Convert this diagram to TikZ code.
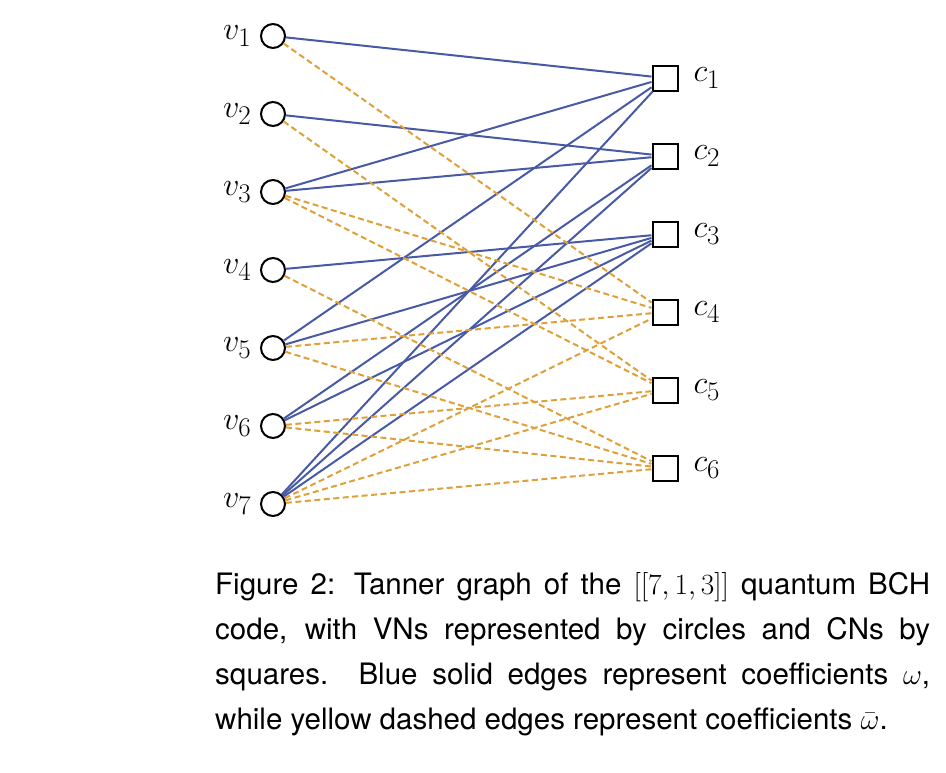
\documentclass[tikz,border=0pt]{standalone}
\usepackage{fontspec}
\setsansfont{TeX Gyre Heros}
\newcommand\scm[2]{\scalebox{#1}{$#2$}}
\begin{document}
\begin{tikzpicture}[x=1pt,y=-1pt,
  vn/.style={circle,draw,line width=2pt,minimum size=24pt,inner sep=0pt},
  cn/.style={rectangle,draw,line width=2pt,minimum size=25pt,inner sep=0pt},
  bl/.style={draw={rgb,255:red,72;green,90;blue,165},line width=2pt},
  yl/.style={draw={rgb,255:red,222;green,160;blue,55},line width=2pt,dash pattern=on 6pt off 3.5pt},
  lab/.style={font=\fontsize{24.88}{25}\selectfont}]
\useasboundingbox (0,0) rectangle (946,772);
\foreach \i in {1,...,7}{
  \node[vn] (v\i) at (273,{36+78*(\i-1)}) {};
  \node[lab,anchor=east] (lv\i) at (255,{36+78*(\i-1)}) {\scm{1.3}{v_{\i}}};
}
\foreach \j in {1,...,6}{
  \node[cn] (c\j) at (665,{78+78*(\j-1)}) {};
  \node[lab,anchor=west] (lc\j) at (690,{78+78*(\j-1)}) {\scm{1.3}{c_{\j}}};
}
\foreach \a/\b in {1/1,3/1,5/1,7/1,2/2,3/2,6/2,7/2,4/3,5/3,6/3,7/3}
  \draw[bl] (v\a) -- (c\b);
\foreach \a/\b in {1/4,3/4,5/4,7/4,2/5,3/5,6/5,7/5,4/6,5/6,6/6,7/6}
  \draw[yl] (v\a) -- (c\b);
\node[anchor=north west,text width=715pt,align=justify,inner sep=0pt,
  font=\sffamily\fontsize{29.5}{45}\selectfont] (cap) at (215,572)
  {Figure 2: Tanner graph of the \scm{1.18}{[[7,1,3]]} quantum BCH code, with VNs represented by circles and CNs by squares. Blue solid edges represent coefficients \scm{1.18}{\omega}, while yellow dashed edges represent coefficients \scm{1.18}{\bar{\omega}}.};
\end{tikzpicture}
\end{document}
